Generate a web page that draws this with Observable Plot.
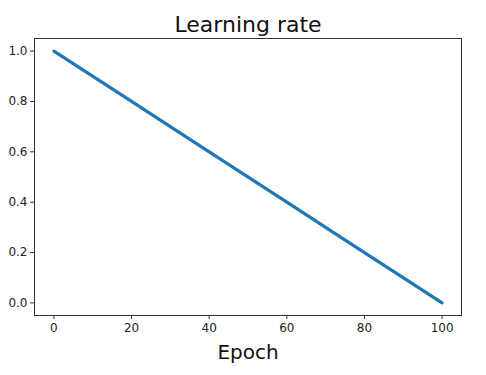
<!DOCTYPE html>
<html>
<head>
<meta charset="utf-8">
<script src="https://cdn.jsdelivr.net/npm/d3@7"></script>
<script src="https://cdn.jsdelivr.net/npm/@observablehq/plot@0.6"></script>
<style>
  html, body { margin: 0; padding: 0; background: #fff; }
  #chart svg { display: block; }
</style>
</head>
<body>
<div id="chart"></div>
<script>
const epochs = [0, 20, 40, 60, 80, 100];
const learningRates = [1.0, 0.8, 0.6, 0.4, 0.2, 0.0];
const xTicks = [0, 20, 40, 60, 80, 100];
const yTicks = [0.0, 0.2, 0.4, 0.6, 0.8, 1.0];
const titleText = "Learning rate";
const xLabelText = "Epoch";

const data = epochs.map((e, i) => ({epoch: e, lr: learningRates[i]}));
const font = "DejaVu Sans, sans-serif";

const chart = Plot.plot({
  width: 486,
  height: 375,
  marginLeft: 34,
  marginRight: 25,
  marginTop: 38,
  marginBottom: 60,
  style: {fontFamily: font, background: "#fff", color: "#222"},
  x: {domain: [-5, 105]},
  y: {domain: [-0.05, 1.05]},
  marks: [
    Plot.frame({stroke: "#333", strokeWidth: 1}),
    Plot.axisX({ticks: xTicks, tickSize: 4, tickPadding: 4, fontSize: 12, label: null, stroke: "#333"}),
    Plot.axisY({ticks: yTicks, tickSize: 4, tickPadding: 3, fontSize: 12, label: null, tickFormat: d3.format(".1f"), stroke: "#333"}),
    Plot.line(data, {x: "epoch", y: "lr", stroke: "#1f77b4", strokeWidth: 3.2}),
    Plot.text([titleText], {frameAnchor: "top", dy: -7, text: d => d, fontSize: 22, fill: "#111", lineAnchor: "bottom"}),
    Plot.text([xLabelText], {frameAnchor: "bottom", dy: 43, text: d => d, fontSize: 20, fill: "#111", lineAnchor: "bottom"})
  ]
});
document.getElementById("chart").appendChild(chart);
</script>
</body>
</html>
